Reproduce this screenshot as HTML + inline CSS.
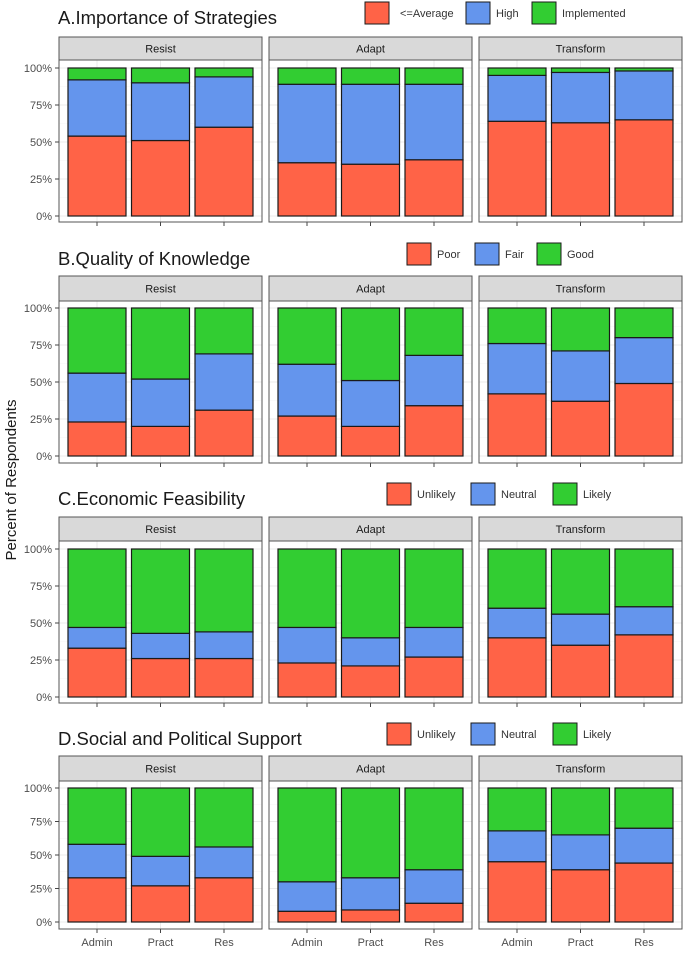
<!DOCTYPE html>
<html><head><meta charset="utf-8"><style>
body{margin:0;background:#fff;width:685px;height:948px;overflow:hidden;font-family:"Liberation Sans",Arial,sans-serif}
</style></head><body>
<svg id="c" width="685" height="948" xmlns="http://www.w3.org/2000/svg"></svg>
<script>
const facets=["Resist","Adapt","Transform"];
const groups=["Admin","Pract","Res"];
const yTicks=[0,25,50,75,100];
const tickLabels=["0%","25%","50%","75%","100%"];
const titles=["A.Importance of Strategies","B.Quality of Knowledge","C.Economic Feasibility","D.Social and Political Support"];
const legendA=["<=Average","High","Implemented"];
const legendB=["Poor","Fair","Good"];
const legendC=["Unlikely","Neutral","Likely"];
const legendD=["Unlikely","Neutral","Likely"];
// lower (red) segment percent, per facet x group
const lowA=[[54,51,60],[36,35,38],[64,63,65]];
const midA=[[38,39,34],[53,54,51],[31,34,33]];
const lowB=[[23,20,31],[27,20,34],[42,37,49]];
const midB=[[33,32,38],[35,31,34],[34,34,31]];
const lowC=[[33,26,26],[23,21,27],[40,35,42]];
const midC=[[14,17,18],[24,19,20],[20,21,19]];
const lowD=[[33,27,33],[8,9,14],[45,39,44]];
const midD=[[25,22,23],[22,24,25],[23,26,26]];
const colors=["#ff6347","#6495ed","#32cd32"];
const svg=document.getElementById('c');
const NS="http://www.w3.org/2000/svg";
function mk(tag,attrs,parent){const e=document.createElementNS(NS,tag);for(const k in attrs)e.setAttribute(k,attrs[k]);(parent||svg).appendChild(e);return e;}
const rows=[
 {title:titles[0],leg:legendA,legX:[365,466,532],legY:2,titleY:24,strip:37,pTop:60,pBot:222,y100:68,y0:216,low:lowA,mid:midA},
 {title:titles[1],leg:legendB,legX:[407,475,537],legY:243,titleY:265,strip:276,pTop:301,pBot:463,y100:308,y0:456,low:lowB,mid:midB},
 {title:titles[2],leg:legendC,legX:[387,471,553],legY:483,titleY:505,strip:517,pTop:541,pBot:703,y100:549,y0:697,low:lowC,mid:midC},
 {title:titles[3],leg:legendD,legX:[387,471,553],legY:723,titleY:745,strip:756,pTop:781,pBot:929,y100:788,y0:922,low:lowD,mid:midD}
];
const panelX=[59,269,479],panelW=203,barW=58,barOff=[38,101.5,165];
rows.forEach((r,ri)=>{
 const yS=v=>r.y0-(r.y0-r.y100)*v/100;
 const t=mk('text',{x:58,y:r.titleY,'font-size':18.5,fill:'#1a1a1a'});t.textContent=r.title;
 
 
 r.leg.forEach((l,i)=>{
  const s=mk('rect',{x:r.legX[i],y:r.legY,width:24,height:22,fill:colors[i],stroke:'#1a1a1a','stroke-width':1});
  
  
  const lt=mk('text',{x:r.legX[i]+(i==0&&ri==0?35:30),y:r.legY+15,'font-size':11,fill:'#333'});lt.textContent=l;
  
  
 });
 facets.forEach((f,fi)=>{
  const px=panelX[fi];
  const st=mk('rect',{x:px,y:r.strip,width:panelW,height:r.pTop-r.strip,fill:'#d9d9d9',stroke:'#555','stroke-width':1});
  
  
  const stt=mk('text',{x:px+panelW/2,y:(r.strip+r.pTop)/2+4,'font-size':11,fill:'#1a1a1a','text-anchor':'middle'});stt.textContent=f;
  
  
  for(let v=0;v<=100;v+=12.5){mk('line',{x1:px,x2:px+panelW,y1:yS(v),y2:yS(v),stroke:v%25==0?'#ebebeb':'#f5f5f5','stroke-width':v%25==0?1:0.6});}
  barOff.forEach(o=>mk('line',{x1:px+o,x2:px+o,y1:r.pTop,y2:r.pBot,stroke:'#ebebeb','stroke-width':1}));
  groups.forEach((g,gi)=>{
   const lo=r.low[fi][gi],mi=r.mid[fi][gi];
   const segs=[[0,lo],[lo,lo+mi],[lo+mi,100]];
   segs.forEach((sg,si)=>{
    const b=mk('rect',{x:px+barOff[gi]-barW/2,y:yS(sg[1]),width:barW,height:yS(sg[0])-yS(sg[1]),fill:colors[si],stroke:'#1a1a1a','stroke-width':1.2});
    
    
   });
   mk('line',{x1:px+barOff[gi],x2:px+barOff[gi],y1:r.pBot,y2:r.pBot+4,stroke:'#444'});
   if(ri==3){const xl=mk('text',{x:px+barOff[gi],y:946,'font-size':11,fill:'#4d4d4d','text-anchor':'middle'});xl.textContent=g;
    
    }
  });
  mk('rect',{x:px,y:r.pTop,width:panelW,height:r.pBot-r.pTop,fill:'none',stroke:'#555','stroke-width':1});
 });
 yTicks.forEach((v,i)=>{
  mk('line',{x1:55,x2:59,y1:yS(v),y2:yS(v),stroke:'#444'});
  const tl=mk('text',{x:52,y:yS(v)+4,'font-size':11,fill:'#4d4d4d','text-anchor':'end'});tl.textContent=tickLabels[i];
  
  
 });
});
const yl=mk('text',{x:0,y:0,'font-size':15,fill:'#1a1a1a','text-anchor':'middle',transform:'translate(16,480) rotate(-90)'});yl.textContent="Percent of Respondents";


</script>
</body></html>
